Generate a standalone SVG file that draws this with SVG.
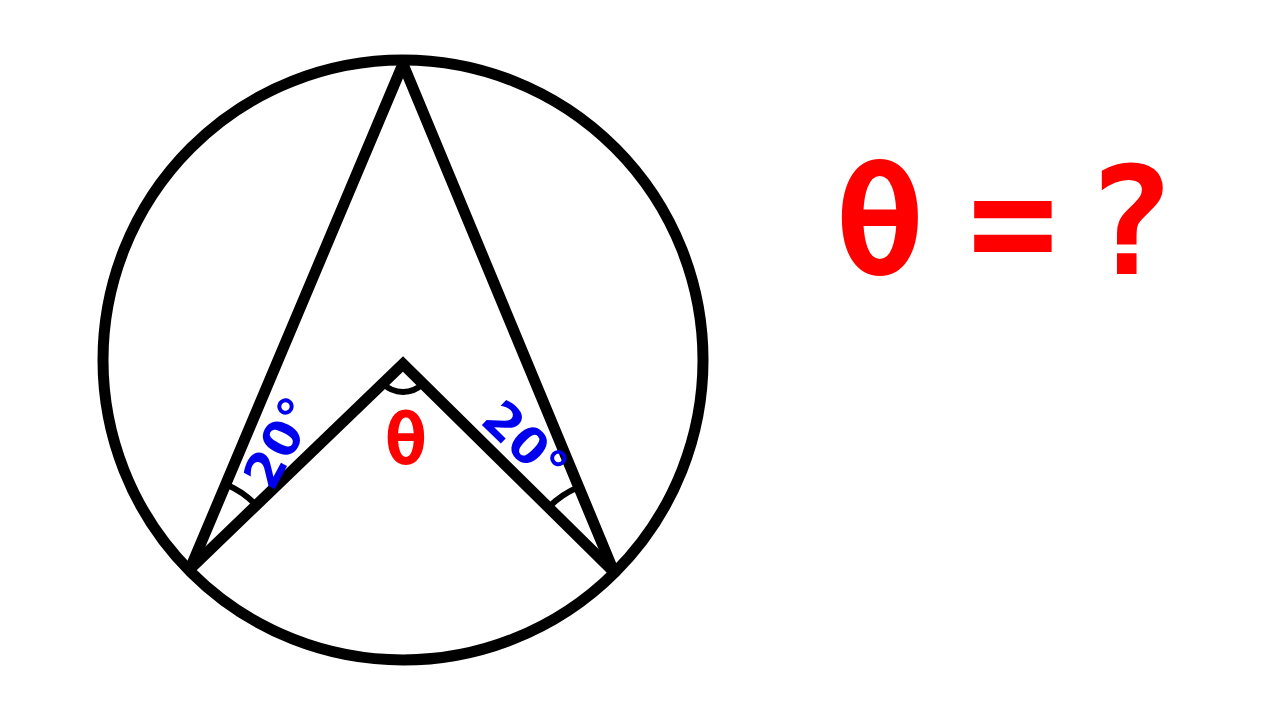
<svg xmlns="http://www.w3.org/2000/svg" width="1280" height="720" viewBox="0 0 1280 720">
<style>
.ln{fill:none;stroke:#000;stroke-width:11;stroke-linecap:round}
.arc{fill:none;stroke:#000;stroke-width:6}
.red{fill:#ff0000;font-family:"DejaVu Sans Mono",monospace;font-weight:bold}
.blue{fill:#0000ee;font-family:"DejaVu Sans",sans-serif;font-weight:bold;font-size:50px}
</style>
<rect width="1280" height="720" fill="#fff"/>
<g id="circle"><circle cx="403" cy="360" r="300" class="ln"/></g>
<g id="connectors">
<polyline class="ln" stroke-linejoin="round" points="190,569 403,64 614,572"/>
<polyline class="ln" stroke-linejoin="miter" points="190,569 403,364 614,572"/>
</g>
<g id="angles">
<path class="arc" d="M225.6,484.2 A92,92 0 0 1 256,504.9"/>
<path class="arc" d="M548.8,507.1 A92,92 0 0 1 578.8,487"/>
<path class="arc" d="M422.9,383.7 A28,28 0 0 1 383,383.5"/>
</g>
<g id="labels">
<text class="blue" x="0" y="0" text-anchor="middle" transform="translate(295,451) rotate(-62)">20°</text>
<text class="blue" x="0" y="0" text-anchor="middle" transform="translate(513,455) rotate(44)">20°</text>
<text class="red" x="406" y="464" font-size="72" text-anchor="middle">θ</text>
</g>
<g id="question">
<text class="red" x="880" y="274" font-size="150" text-anchor="middle">θ</text>
<text class="red" x="1013" y="274" font-size="150" text-anchor="middle">=</text>
<text class="red" x="1130" y="274" font-size="150" text-anchor="middle">?</text>
</g>
</svg>
